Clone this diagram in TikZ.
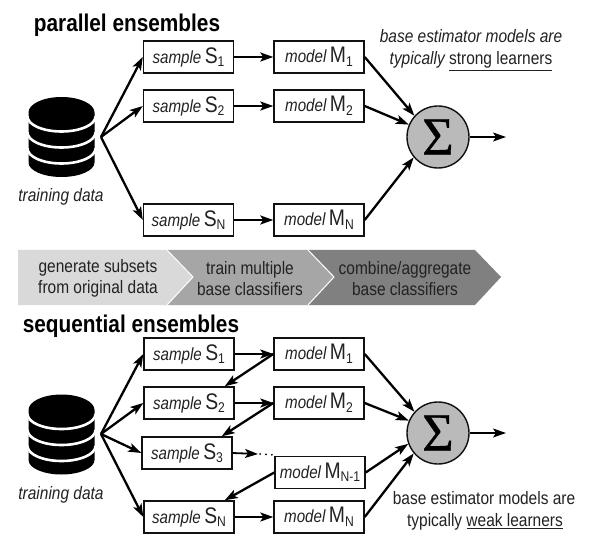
\documentclass[tikz,border=0pt]{standalone}
\usepackage{fontspec}
\setmainfont[FakeStretch=0.86]{Liberation Sans}
\newfontfamily\sigfont[FakeBold=0.6]{Liberation Serif}
\usetikzlibrary{arrows.meta}
\newcommand\lab[3]{{\fontsize{17.6}{18}\selectfont\itshape #1}\hspace{0.35em}{\fontsize{22.5}{23}\selectfont #2}\raisebox{-3.5pt}{\fontsize{14.1}{14}\selectfont #3}}
\newcommand\fs[1]{\fontsize{#1}{#1}\selectfont}
\definecolor{ink}{HTML}{111111}
\definecolor{txt}{HTML}{222222}
\tikzset{
  x=1pt,y=-1pt,
  box/.style={draw=ink,line width=1.4pt,fill=white,minimum width=90pt,minimum height=32pt,inner sep=0pt,text=txt,anchor=center},
  conn/.style={draw=black,line width=2.3pt,-{Stealth[length=13pt,width=9pt,inset=3pt]}},
  thin conn/.style={conn,line width=1.8pt},
  sumnode/.style={circle,draw=ink,line width=1.4pt,fill=black!27,minimum size=62pt,inner sep=0pt},
  ttl/.style={font=\fs{24.2}\bfseries,text=black,inner sep=0pt},
  note/.style={font=\fs{18},text=txt,inner sep=0pt},
  notei/.style={note,font=\fs{18}\itshape},
  chev/.style={white,line width=1pt},
  chevtxt/.style={font=\fs{18},text=txt,align=center,inner sep=0pt},
}
\newcommand\dbase[2]{%
  \begin{scope}[shift={(#1,#2)}]
    \fill[black] (-33,0) arc[x radius=33,y radius=15.5,start angle=180,end angle=360]
      -- (33,50) arc[x radius=33,y radius=14.5,start angle=0,end angle=180] -- cycle;
    \draw[white,line width=2.6pt] (-34,4) arc[x radius=34,y radius=15,start angle=180,end angle=0];
    \draw[white,line width=2.6pt] (-34,20) arc[x radius=34,y radius=15,start angle=180,end angle=0];
    \draw[white,line width=2.6pt] (-34,36) arc[x radius=34,y radius=15,start angle=180,end angle=0];
  \end{scope}}
\newcommand\sigmark{{\sigfont\fontsize{54}{54}\selectfont\symbol{"03A3}}}
\begin{document}
\begin{tikzpicture}
\useasboundingbox (0,0) rectangle (594,545);
\fill[white] (0,0) rectangle (594,545);

% --- parallel ---
\node[ttl] (t1) at (127,25) {parallel ensembles};
\dbase{61.5}{112.5}
\node[notei] (td1) at (61,197) {training data};
\coordinate (hub1) at (101,137);
\node[box] (s1) at (188.5,57) {\lab{sample}{S}{1}};
\node[box] (s2) at (188.5,106) {\lab{sample}{S}{2}};
\node[box] (sn) at (188.5,220) {\lab{sample}{S}{N}};
\node[box] (m1) at (319,57) {\lab{model}{M}{1}};
\node[box] (m2) at (319,106) {\lab{model}{M}{2}};
\node[box] (mn) at (319,220) {\lab{model}{M}{N}};
\node[sumnode] (sum1) at (438,137) {\sigmark};
\coordinate (out1) at (506,137);
\draw[conn] (hub1) -- (s1.west);
\draw[conn] (hub1) -- (s2.west);
\draw[conn] (hub1) -- (sn.west);
\draw[conn] (s1) -- (m1);
\draw[conn] (s2) -- (m2);
\draw[conn] (sn) -- (mn);
\draw[conn] (m1.east) -- (sum1.138);
\draw[conn] (m2.east) -- (sum1.157);
\draw[conn] (mn.east) -- (sum1.220);
\draw[thin conn] (sum1) -- (out1);
\node[notei] (n1) at (471,36) {base estimator models are};
\node[note] (n2) at (471,61) {{\itshape typically} \underline{strong learners}};

% --- chevrons ---
\fill[black!15] (18,250) -- (167,250) -- (193,277) -- (167,305) -- (18,305) -- cycle;
\fill[black!35] (167,250) -- (308,250) -- (334,277) -- (308,305) -- (167,305) -- (193,277) -- cycle;
\fill[black!50] (308,250) -- (475,250) -- (501,277) -- (475,305) -- (308,305) -- (334,277) -- cycle;
\draw[chev] (167,250) -- (193,277) -- (167,305);
\draw[chev] (308,250) -- (334,277) -- (308,305);
\node[chevtxt] (c1) at (98,278.5) {generate subsets\\[3.5pt]from original data};
\node[chevtxt] (c2) at (250,278.5) {train multiple\\[3.5pt]base classifiers};
\node[chevtxt] (c3) at (405,278.5) {combine/aggregate\\[3.5pt]base classifiers};

% --- sequential ---
\node[ttl] (t2) at (131,326) {sequential ensembles};
\dbase{61.5}{410}
\node[notei] (td2) at (61,495) {training data};
\coordinate (hub2) at (101,434);
\node[box] (q1) at (189,354) {\lab{sample}{S}{1}};
\node[box] (q2) at (189,403) {\lab{sample}{S}{2}};
\node[box] (q3) at (187,453) {\lab{sample}{S}{3}};
\node[box] (qn) at (189,517) {\lab{sample}{S}{N}};
\node[box] (r1) at (319,354) {\lab{model}{M}{1}};
\node[box] (r2) at (319,403) {\lab{model}{M}{2}};
\node[box] (r3) at (320,472.5) {\lab{model}{M}{N-1}};
\node[box] (rn) at (319,517) {\lab{model}{M}{N}};
\node[sumnode] (sum2) at (438,433) {\sigmark};
\coordinate (out2) at (506,433);
\coordinate (dots) at (258,454);
\coordinate (dotsend) at (276,455);
\draw[conn] (hub2) -- (q1.west);
\draw[conn] (hub2) -- (q2.west);
\draw[conn] (hub2) -- (q3.west);
\draw[conn] (hub2) -- (qn.west);
\draw[thin conn] (q1) -- (r1);
\draw[thin conn] (q2) -- (r2);
\draw[thin conn] (qn) -- (rn);
\draw[thin conn] (q3.east) -- (dots);
\draw[black,line width=2pt,line cap=round,dash pattern=on 0pt off 6pt] (dots)++(2,0) -- (dotsend);
\draw[conn] (r1.west) -- ([xshift=-10pt]q2.north east);
\draw[conn] (r2.west) -- ([xshift=-11pt]q3.north east);
\draw[conn] (r3.west) -- ([xshift=-10pt]qn.north east);
\draw[conn] (r1.east) -- (sum2.138);
\draw[conn] (r2.east) -- (sum2.157);
\draw[conn] (r3.east) -- (sum2.200);
\draw[conn] (rn.east) -- (sum2.220);
\draw[thin conn] (sum2) -- (out2);
\node[note] (n3) at (484,498) {base estimator models are};
\node[note] (n4) at (485,522) {typically \underline{weak learners}};
\end{tikzpicture}
\end{document}
